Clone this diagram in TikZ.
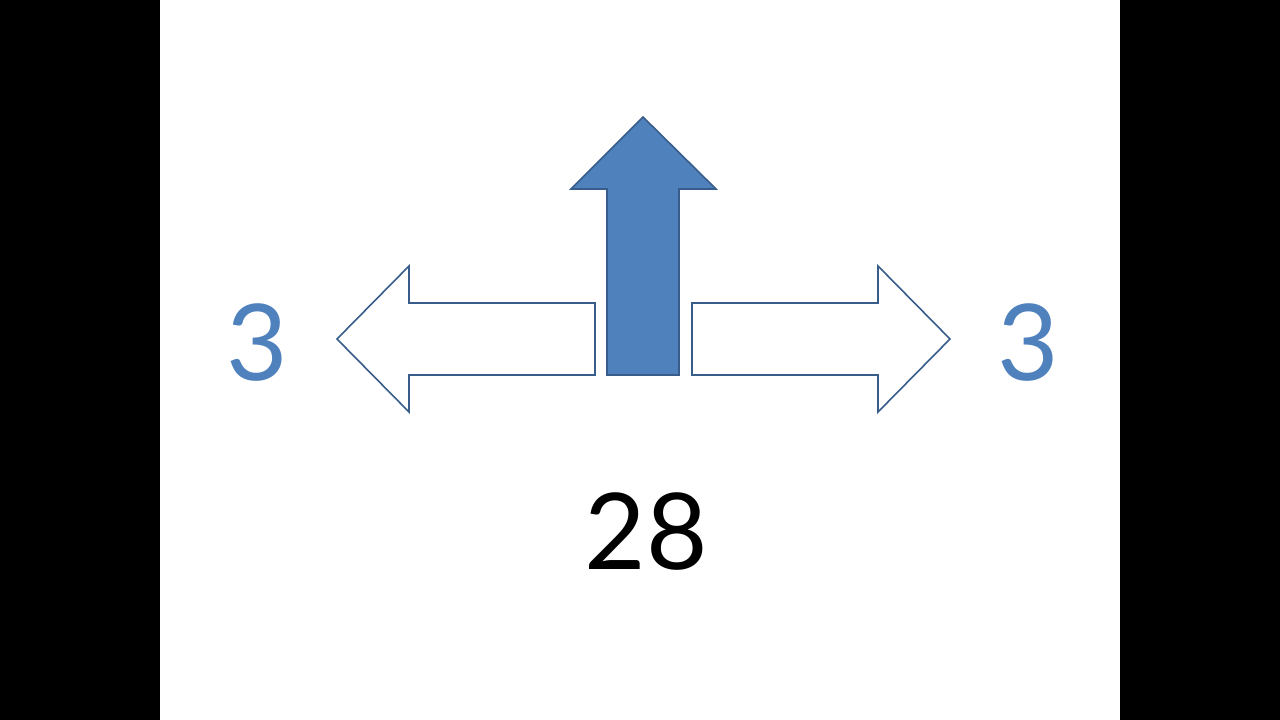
\documentclass[tikz,border=0pt]{standalone}
\usepackage{fontspec}
\setmainfont{Lato}
\definecolor{accent}{HTML}{4F81BD}
\definecolor{edge}{HTML}{385D8A}
\begin{document}
\begin{tikzpicture}[x=1pt,y=-1pt,
  arrowshape/.style={draw=edge,line width=1.6pt,line join=miter},
  numlabel/.style={font=\fontsize{106}{106}\selectfont,anchor=base,inner sep=0pt}]
\useasboundingbox (0,0) rectangle (1280,720);
\fill[black] (0,0) rectangle (160,720);
\fill[black] (1120,0) rectangle (1280,720);
\fill[white] (160,0) rectangle (1120,720);
% up arrow
\draw[arrowshape,fill=accent] (607,375) -- (607,189) -- (571,189) -- (643,117) -- (716,189) -- (679,189) -- (679,375) -- cycle;
% left arrow
\draw[arrowshape,fill=white] (595,303) -- (409,303) -- (409,266) -- (337,339) -- (409,412) -- (409,375) -- (595,375) -- cycle;
% right arrow
\draw[arrowshape,fill=white] (692,303) -- (878,303) -- (878,266) -- (950,339) -- (878,412) -- (878,375) -- (692,375) -- cycle;
\node[numlabel,text=accent] (l3) at (257,380) {3};
\node[numlabel,text=accent] (r3) at (1028,380) {3};
\node[numlabel,text=black] (n28) at (646,569) {28};
\end{tikzpicture}
\end{document}
